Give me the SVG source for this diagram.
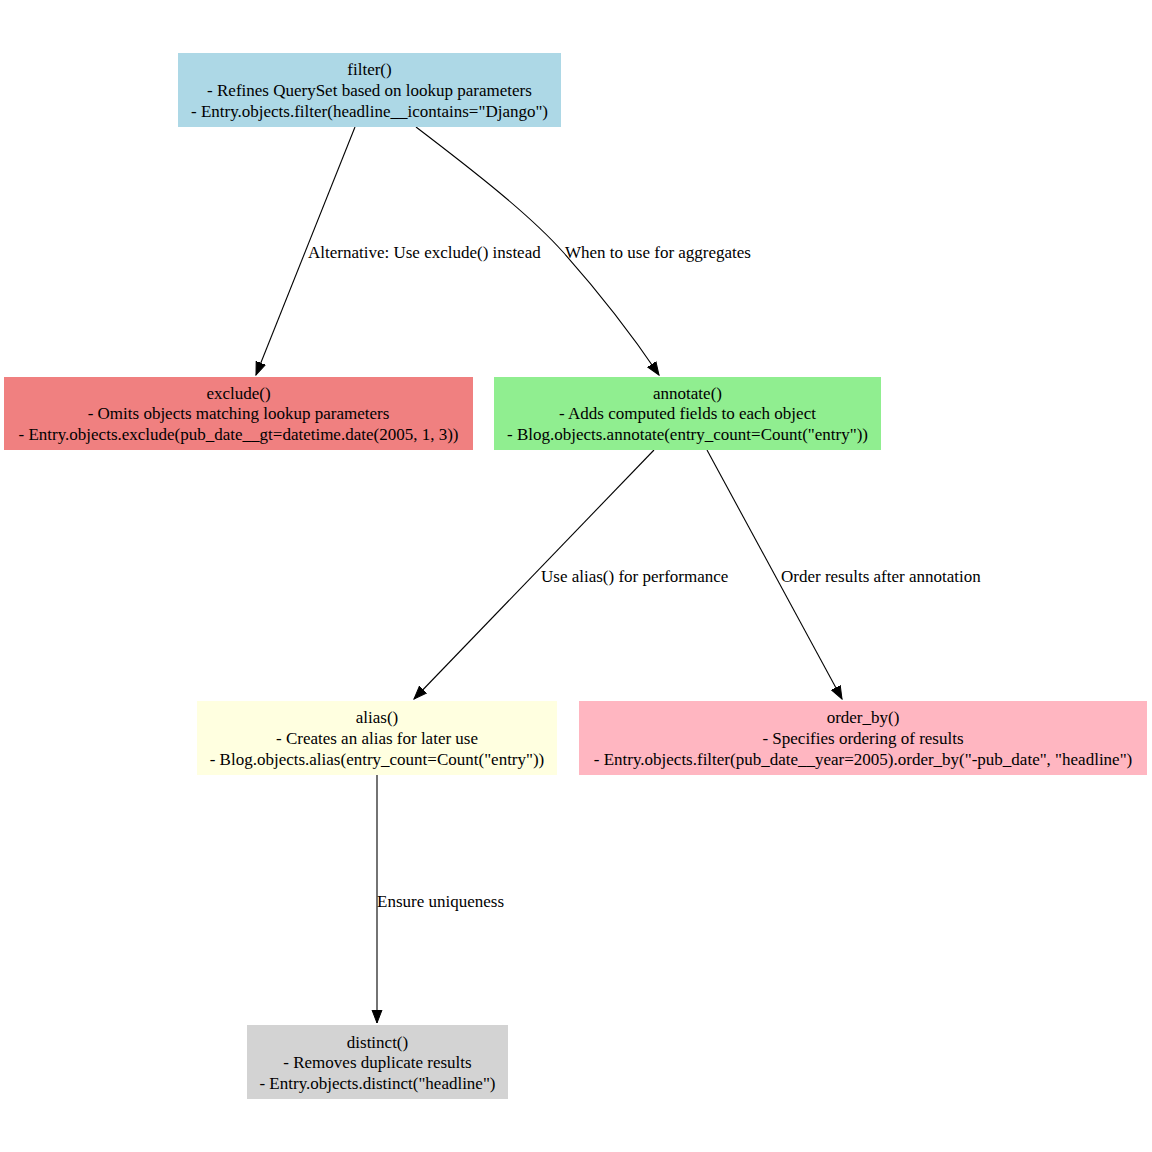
<svg xmlns="http://www.w3.org/2000/svg" width="1152" height="1152" viewBox="0 0 1152 1152">
<style>
text{font-family:"Liberation Serif","Times New Roman",serif;font-size:17px;fill:#000}
.n text{text-anchor:middle}
.e path{fill:none;stroke:#000;stroke-width:1.1}
</style>
<defs>
<marker id="ah" markerUnits="userSpaceOnUse" markerWidth="14" markerHeight="12" viewBox="0 0 14 12" refX="13" refY="6" orient="auto">
<path d="M0,1 L13,6 L0,11 Z" fill="#000" stroke="#000"/>
</marker>
</defs>
<rect width="1152" height="1152" fill="#fff"/>
<g id="connectors" class="e">
<path d="M355,127 L256,375" marker-end="url(#ah)"/>
<path d="M416,127 C475,172 530,215 563,252 C595,288 630,332 659,375" marker-end="url(#ah)"/>
<path d="M654,450 L414,699" marker-end="url(#ah)"/>
<path d="M707,450 L842,699" marker-end="url(#ah)"/>
<path d="M377,775 L377,1023" marker-end="url(#ah)"/>
<text x="308" y="258">Alternative: Use exclude() instead</text>
<text x="565" y="258">When to use for aggregates</text>
<text x="541" y="582">Use alias() for performance</text>
<text x="781" y="582">Order results after annotation</text>
<text x="377" y="907">Ensure uniqueness</text>
</g>
<g id="filter" class="n">
<rect x="178" y="53" width="383" height="74" fill="#ADD8E6"/>
<text x="369.5" y="75">filter()</text>
<text x="369.5" y="96">- Refines QuerySet based on lookup parameters</text>
<text x="369.5" y="117">- Entry.objects.filter(headline__icontains="Django")</text>
</g>
<g id="exclude" class="n">
<rect x="4" y="377" width="469" height="73" fill="#F08080"/>
<text x="238.5" y="399">exclude()</text>
<text x="238.5" y="419">- Omits objects matching lookup parameters</text>
<text x="238.5" y="440">- Entry.objects.exclude(pub_date__gt=datetime.date(2005, 1, 3))</text>
</g>
<g id="annotate" class="n">
<rect x="494" y="377" width="387" height="73" fill="#90EE90"/>
<text x="687.5" y="399">annotate()</text>
<text x="687.5" y="419">- Adds computed fields to each object</text>
<text x="687.5" y="440">- Blog.objects.annotate(entry_count=Count("entry"))</text>
</g>
<g id="alias" class="n">
<rect x="197" y="701" width="360" height="74" fill="#FFFFE0"/>
<text x="377" y="723">alias()</text>
<text x="377" y="744">- Creates an alias for later use</text>
<text x="377" y="765">- Blog.objects.alias(entry_count=Count("entry"))</text>
</g>
<g id="order_by" class="n">
<rect x="579" y="701" width="568" height="74" fill="#FFB6C1"/>
<text x="863" y="723">order_by()</text>
<text x="863" y="744">- Specifies ordering of results</text>
<text x="863" y="765">- Entry.objects.filter(pub_date__year=2005).order_by("-pub_date", "headline")</text>
</g>
<g id="distinct" class="n">
<rect x="247" y="1025" width="261" height="74" fill="#D3D3D3"/>
<text x="377.5" y="1048">distinct()</text>
<text x="377.5" y="1068">- Removes duplicate results</text>
<text x="377.5" y="1089">- Entry.objects.distinct("headline")</text>
</g>
</svg>
